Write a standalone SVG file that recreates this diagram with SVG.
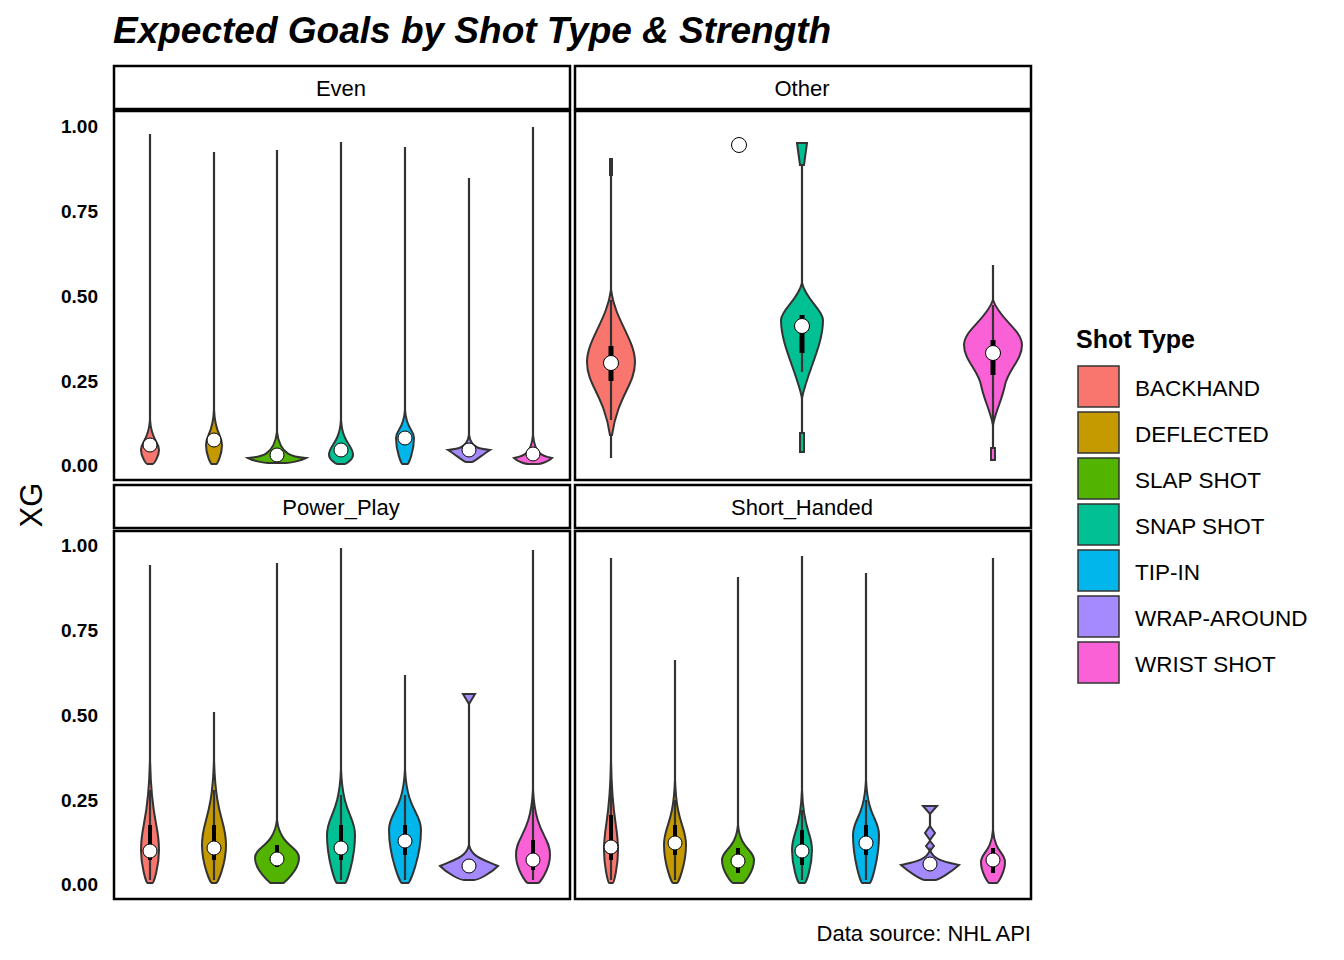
<svg xmlns="http://www.w3.org/2000/svg" width="1344" height="960" viewBox="0 0 1344 960">
<style>
text{font-family:"Liberation Sans",Arial,sans-serif;fill:#000}
.fr{fill:none;stroke:#000;stroke-width:2.5}
.st{fill:#fff;stroke:#000;stroke-width:2.5}
.ax{font-size:19px;font-weight:bold;text-anchor:end}
.sl{font-size:22px;text-anchor:middle}
.v{stroke:#333;stroke-width:2}
.ln{stroke:#333;stroke-width:2.2}
.d{fill:#fff;stroke:#000;stroke-width:1}
.bx{fill:#000}
.lg{font-size:22.5px}
.a{fill:#F8766D}.b{fill:#C49A00}.c{fill:#53B400}.e{fill:#00C094}.f{fill:#00B6EB}.g{fill:#A58AFF}.h{fill:#FB61D7}
</style>
<rect width="1344" height="960" fill="#fff"/>
<text x="113" y="43" font-size="37" font-weight="bold" font-style="italic">Expected Goals by Shot Type &amp; Strength</text>
<g id="panels">
<rect class="st" x="114" y="66" width="456" height="43"/><text class="sl" x="341" y="96">Even</text>
<rect class="st" x="575" y="66" width="456" height="43"/><text class="sl" x="802" y="96">Other</text>
<rect class="st" x="114" y="485" width="456" height="43"/><text class="sl" x="341" y="515">Power_Play</text>
<rect class="st" x="575" y="485" width="456" height="43"/><text class="sl" x="802" y="515">Short_Handed</text>
<rect class="fr" x="114" y="111" width="456" height="369"/>
<rect class="fr" x="575" y="111" width="456" height="369"/>
<rect class="fr" x="114" y="531" width="456" height="368"/>
<rect class="fr" x="575" y="531" width="456" height="368"/>
</g>
<g id="axes">
<text class="ax" x="98" y="133">1.00</text><text class="ax" x="98" y="218">0.75</text><text class="ax" x="98" y="303">0.50</text><text class="ax" x="98" y="388">0.25</text><text class="ax" x="98" y="472">0.00</text>
<text class="ax" x="98" y="552">1.00</text><text class="ax" x="98" y="637">0.75</text><text class="ax" x="98" y="722">0.50</text><text class="ax" x="98" y="807">0.25</text><text class="ax" x="98" y="891">0.00</text>
<text x="42" y="505" font-size="31" text-anchor="middle" transform="rotate(-90 42 505)">XG</text>
</g>
<g id="even">
<line class="ln" x1="150" y1="134" x2="150" y2="440"/><path class="v a" d="M150,420 C151.4,441 159,441 159,450 C159,457 153.6,464 152.7,464 L147.3,464 C146.4,464 141,457 141,450 C141,441 148.6,441 150,420Z"/><circle class="d" cx="150" cy="445" r="7"/>
<line class="ln" x1="214" y1="152" x2="214" y2="430"/><path class="v b" d="M214,410 C215.2,434.5 222,434.5 222,445 C222,454.5 217.2,464 216.4,464 L211.6,464 C210.8,464 206,454.5 206,445 C206,434.5 212.8,434.5 214,410Z"/><circle class="d" cx="214" cy="440" r="7"/>
<line class="ln" x1="277" y1="150" x2="277" y2="450"/><path class="v c" d="M277,432 C280,456 294,457 306,458 C300,461 290,463 286,463 L268,463 C264,463 254,461 248,458 C260,457 274,456 277,432Z"/><circle class="d" cx="277" cy="455" r="7"/>
<line class="ln" x1="341" y1="142" x2="341" y2="440"/><path class="v e" d="M341,420 C342.8,444.5 353,444.5 353,455 C353,459.5 345.8,464 344.6,464 L337.4,464 C336.2,464 329,459.5 329,455 C329,444.5 339.2,444.5 341,420Z"/><circle class="d" cx="341" cy="450" r="7"/>
<line class="ln" x1="405" y1="147" x2="405" y2="430"/><path class="v f" d="M405,410 C406.4,429.6 414,429.6 414,438 C414,451 408.6,464 407.7,464 L402.3,464 C401.4,464 396,451 396,438 C396,429.6 403.6,429.6 405,410Z"/><circle class="d" cx="405" cy="438" r="7"/>
<line class="ln" x1="469" y1="178" x2="469" y2="445"/><path class="v g" d="M469,435 C471,448 480,449 490,450 C482,455 474,462 472,462 L466,462 C464,462 456,455 448,450 C458,449 467,448 469,435Z"/><circle class="d" cx="469" cy="450" r="7"/>
<line class="ln" x1="533" y1="127" x2="533" y2="450"/><path class="v h" d="M533,435 C535,455 543,456 552,458 C548,462 540,464 538,464 L528,464 C526,464 518,462 514,458 C523,456 531,455 533,435Z"/><circle class="d" cx="533" cy="454" r="7"/>
</g>
<g id="other">
<line class="ln" x1="611" y1="160" x2="611" y2="458"/><rect x="609" y="158" width="4" height="18" fill="#333"/><path class="v a" d="M611,290 C615,320 635,340 635,362 C635,385 618,395 612,435 L610,435 C604,395 587,385 587,362 C587,340 607,320 611,290Z"/><line class="ln" x1="611" y1="300" x2="611" y2="420"/><rect class="bx" x="608.5" y="346" width="5" height="35"/><circle class="d" cx="611" cy="363" r="7.5"/>
<circle class="d" cx="739" cy="145" r="7.5"/>
<line class="ln" x1="802" y1="160" x2="802" y2="452"/><path class="v e" d="M797,143 L807,143 L804,165 L800,165Z"/><path class="v e" d="M802,283 C806,300 823,310 823,320 C823,345 808,370 802,398 C796,370 781,345 781,320 C781,310 798,300 802,283Z"/><path class="v e" d="M800,433 L804,433 L804,452 L800,452Z"/><line class="ln" x1="802" y1="315" x2="802" y2="372"/><rect class="bx" x="799.5" y="315" width="5" height="38"/><circle class="d" cx="802" cy="326" r="7.5"/>
<line class="ln" x1="993" y1="265" x2="993" y2="460"/><path class="v h" d="M993,300 C1000,320 1022,330 1022,345 C1022,360 1008,370 1005,385 C1002,400 996,410 993,425 C990,410 984,400 981,385 C978,370 964,360 964,345 C964,330 986,320 993,300Z"/><path class="v h" d="M991,448 L995,448 L995,460 L991,460Z"/><line class="ln" x1="993" y1="305" x2="993" y2="420"/><rect class="bx" x="990.5" y="340" width="5" height="35"/><circle class="d" cx="993" cy="353" r="7.5"/>
</g>
<g id="powerplay">
<line class="ln" x1="150" y1="565" x2="150" y2="800"/><path class="v a" d="M150,760 C151.4,823 159,823 159,850 C159,866.5 153.6,883 152.7,883 L147.3,883 C146.4,883 141,866.5 141,850 C141,823 148.6,823 150,760Z"/><line class="ln" x1="150" y1="790" x2="150" y2="880"/><rect class="bx" x="148" y="825" width="4" height="35"/><circle class="d" cx="150" cy="851" r="7"/>
<line class="ln" x1="214" y1="712" x2="214" y2="800"/><path class="v b" d="M214,760 C215.8,819.5 226,819.5 226,845 C226,864 217.6,883 216.4,883 L211.6,883 C210.4,883 202,864 202,845 C202,819.5 212.2,819.5 214,760Z"/><line class="ln" x1="214" y1="790" x2="214" y2="880"/><rect class="bx" x="212" y="825" width="4" height="35"/><circle class="d" cx="214" cy="848" r="7"/>
<line class="ln" x1="277" y1="563" x2="277" y2="840"/><path class="v c" d="M277,820 C280.3,846.6 299,846.6 299,858 C299,870.5 283.6,883 283.6,883 L270.4,883 C270.4,883 255,870.5 255,858 C255,846.6 273.7,846.6 277,820Z"/><rect class="bx" x="275" y="845" width="4" height="22"/><circle class="d" cx="277" cy="859" r="7"/>
<line class="ln" x1="341" y1="548" x2="341" y2="800"/><path class="v e" d="M341,770 C343.1,815.5 355,815.5 355,835 C355,859 346.6,883 345.2,883 L336.8,883 C335.4,883 327,859 327,835 C327,815.5 338.9,815.5 341,770Z"/><line class="ln" x1="341" y1="795" x2="341" y2="880"/><rect class="bx" x="339" y="825" width="4" height="35"/><circle class="d" cx="341" cy="848" r="7"/>
<line class="ln" x1="405" y1="675" x2="405" y2="800"/><path class="v f" d="M405,770 C407.4,812 421,812 421,830 C421,856.5 409.8,883 408.2,883 L401.8,883 C400.2,883 389,856.5 389,830 C389,812 402.6,812 405,770Z"/><line class="ln" x1="405" y1="795" x2="405" y2="880"/><rect class="bx" x="403" y="825" width="4" height="30"/><circle class="d" cx="405" cy="841" r="7"/>
<line class="ln" x1="469" y1="700" x2="469" y2="850"/><path class="v g" d="M463,694 L475,694 L469,704Z"/><path class="v g" d="M469,845 C472,858 485,860 498,866 C490,874 478,880 474,880 L464,880 C460,880 448,874 440,866 C453,860 466,858 469,845Z"/><circle class="d" cx="469" cy="866" r="7"/>
<line class="ln" x1="533" y1="550" x2="533" y2="810"/><path class="v h" d="M533,790 C535.6,835.5 550,835.5 550,855 C550,869 539.8,883 538.1,883 L527.9,883 C526.2,883 516,869 516,855 C516,835.5 530.4,835.5 533,790Z"/><line class="ln" x1="533" y1="800" x2="533" y2="880"/><rect class="bx" x="531" y="840" width="4" height="30"/><circle class="d" cx="533" cy="860" r="7"/>
</g>
<g id="shorthanded">
<line class="ln" x1="611" y1="558" x2="611" y2="800"/><path class="v a" d="M611,760 C612,823 618,823 618,850 C618,866.5 613.8,883 613.1,883 L608.9,883 C608.2,883 604,866.5 604,850 C604,823 610,823 611,760Z"/><line class="ln" x1="611" y1="780" x2="611" y2="880"/><rect class="bx" x="609" y="815" width="4" height="45"/><circle class="d" cx="611" cy="847" r="7"/>
<line class="ln" x1="675" y1="660" x2="675" y2="810"/><path class="v b" d="M675,780 C676.7,825.5 686,825.5 686,845 C686,864 678.3,883 677.2,883 L672.8,883 C671.7,883 664,864 664,845 C664,825.5 673.3,825.5 675,780Z"/><line class="ln" x1="675" y1="800" x2="675" y2="880"/><rect class="bx" x="673" y="825" width="4" height="30"/><circle class="d" cx="675" cy="843" r="7"/>
<line class="ln" x1="738" y1="577" x2="738" y2="845"/><path class="v c" d="M738,825 C740.4,849.5 754,849.5 754,860 C754,871.5 744.4,883 742.8,883 L733.2,883 C731.6,883 722,871.5 722,860 C722,849.5 735.6,849.5 738,825Z"/><rect class="bx" x="736" y="848" width="4" height="25"/><circle class="d" cx="738" cy="861" r="7"/>
<line class="ln" x1="802" y1="556" x2="802" y2="820"/><path class="v e" d="M802,790 C803.5,832 812,832 812,850 C812,866.5 806,883 805,883 L799,883 C798,883 792,866.5 792,850 C792,832 800.5,832 802,790Z"/><line class="ln" x1="802" y1="810" x2="802" y2="880"/><rect class="bx" x="800" y="830" width="4" height="35"/><circle class="d" cx="802" cy="851" r="7"/>
<line class="ln" x1="866" y1="573" x2="866" y2="810"/><path class="v f" d="M866,780 C868,818.5 879,818.5 879,835 C879,859 871.2,883 869.9,883 L862.1,883 C860.8,883 853,859 853,835 C853,818.5 864,818.5 866,780Z"/><line class="ln" x1="866" y1="800" x2="866" y2="880"/><rect class="bx" x="864" y="825" width="4" height="30"/><circle class="d" cx="866" cy="843" r="7"/>
<line class="ln" x1="930" y1="810" x2="930" y2="855"/><path class="v g" d="M923,806 L937,806 L930,814Z"/><path class="v g" d="M930,826 L935,833 L930,840 L925,833Z"/><path class="v g" d="M930,841 L934,846 L930,851 L926,846Z"/><path class="v g" d="M930,850 C933,860 946,862 959,865 C951,872 939,880 935,880 L925,880 C921,880 909,872 901,865 C914,862 927,860 930,850Z"/><circle class="d" cx="930" cy="864" r="7"/>
<line class="ln" x1="993" y1="558" x2="993" y2="845"/><path class="v h" d="M993,830 C994.8,852.4 1005,852.4 1005,862 C1005,872.5 997.8,883 996.6,883 L989.4,883 C988.2,883 981,872.5 981,862 C981,852.4 991.2,852.4 993,830Z"/><rect class="bx" x="991" y="848" width="4" height="25"/><circle class="d" cx="993" cy="860" r="7"/>
</g>
<g id="legend">
<text x="1076" y="348" font-size="25" font-weight="bold">Shot Type</text>
<rect class="a" x="1078" y="366" width="41" height="41" stroke="#333" stroke-width="1.5"/><text class="lg" x="1135" y="396">BACKHAND</text>
<rect class="b" x="1078" y="412" width="41" height="41" stroke="#333" stroke-width="1.5"/><text class="lg" x="1135" y="442">DEFLECTED</text>
<rect class="c" x="1078" y="458" width="41" height="41" stroke="#333" stroke-width="1.5"/><text class="lg" x="1135" y="488">SLAP SHOT</text>
<rect class="e" x="1078" y="504" width="41" height="41" stroke="#333" stroke-width="1.5"/><text class="lg" x="1135" y="534">SNAP SHOT</text>
<rect class="f" x="1078" y="550" width="41" height="41" stroke="#333" stroke-width="1.5"/><text class="lg" x="1135" y="580">TIP-IN</text>
<rect class="g" x="1078" y="596" width="41" height="41" stroke="#333" stroke-width="1.5"/><text class="lg" x="1135" y="626">WRAP-AROUND</text>
<rect class="h" x="1078" y="642" width="41" height="41" stroke="#333" stroke-width="1.5"/><text class="lg" x="1135" y="672">WRIST SHOT</text>
</g>
<text x="1031" y="941" font-size="22" text-anchor="end">Data source: NHL API</text>
</svg>
